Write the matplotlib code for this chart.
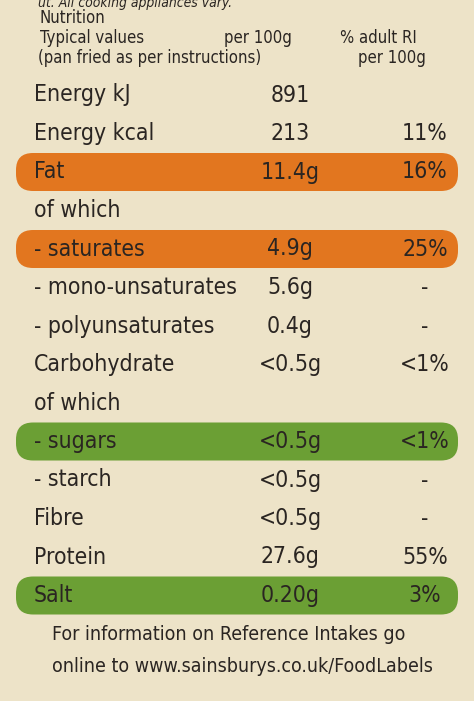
import matplotlib
matplotlib.use("Agg")
import matplotlib.pyplot as plt
from matplotlib.patches import FancyBboxPatch

# ====== data ======
labels = ["Energy kJ", "Energy kcal", "Fat", "of which", "- saturates",
          "- mono-unsaturates", "- polyunsaturates", "Carbohydrate", "of which",
          "- sugars", "- starch", "Fibre", "Protein", "Salt"]
per100 = ["891", "213", "11.4g", "", "4.9g", "5.6g", "0.4g", "<0.5g", "",
          "<0.5g", "<0.5g", "<0.5g", "27.6g", "0.20g"]
ri = ["", "11%", "16%", "", "25%", "-", "-", "<1%", "", "<1%", "-", "-", "55%", "3%"]
bands = ["", "", "orange", "", "orange", "", "", "", "", "green", "", "", "", "green"]
footer = ["For information on Reference Intakes go",
          "online to www.sainsburys.co.uk/FoodLabels"]

colors = {"orange": "#e2761f", "green": "#6b9f34"}
bg = "#ede3c8"
ink = "#2a2522"
font = ["DejaVu Sans"]
kw = dict(family=font, color=ink, va="center", fontstretch="condensed")

fig = plt.figure(figsize=(4.74, 7.01), dpi=100, facecolor=bg)
ax = fig.add_axes([0, 0, 1, 1])
ax.set_xlim(0, 474)
ax.set_ylim(701, 0)
ax.axis("off")

# header
ax.text(38, 3, "ut. All cooking appliances vary.", fontsize=10, style="italic", **kw)
ax.text(40, 18, "Nutrition", fontsize=12, **kw)
ax.text(40, 38, "Typical values", fontsize=12, **kw)
ax.text(258, 38, "per 100g", fontsize=12, ha="center", **kw)
ax.text(378, 38, "% adult RI", fontsize=12, ha="center", **kw)
ax.text(38, 58, "(pan fried as per instructions)", fontsize=12, **kw)
ax.text(392, 58, "per 100g", fontsize=12, ha="center", **kw)

y0, dy = 95, 38.5
for i, (lab, v, r, b) in enumerate(zip(labels, per100, ri, bands)):
    y = y0 + i * dy
    if b:
        ax.add_patch(FancyBboxPatch((16, y - 19), 442, 38,
                                    boxstyle="round,pad=0,rounding_size=17",
                                    fc=colors[b], ec="none"))
    ax.text(34, y, lab, fontsize=16.5, **kw)
    ax.text(290, y, v, fontsize=16.5, ha="center", **kw)
    ax.text(425, y, r, fontsize=16.5, ha="center", **kw)

for j, line in enumerate(footer):
    ax.text(52, 634 + j * 32, line, fontsize=14, **kw)

fig.savefig("out.png", dpi=100, facecolor=bg)
